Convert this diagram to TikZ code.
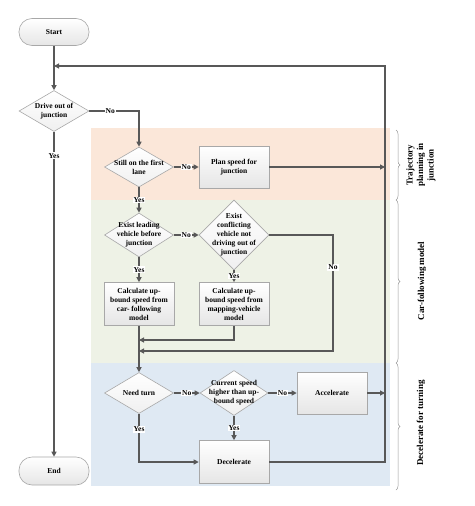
\documentclass[tikz,border=0pt]{standalone}
\usepackage{fontspec}
\setmainfont{Liberation Serif}
\usetikzlibrary{shapes.geometric,arrows.meta,decorations.pathreplacing}
\definecolor{bandO}{RGB}{251,231,217}
\definecolor{bandG}{RGB}{238,242,230}
\definecolor{bandB}{RGB}{223,233,243}
\definecolor{lineC}{RGB}{88,88,88}
\definecolor{bordC}{RGB}{168,168,168}
\tikzset{
  nfont/.style={font=\bfseries\fontsize{7.5}{9}\selectfont},
  base/.style={draw=bordC, line width=0.6pt, top color=white, bottom color=black!10, inner sep=0pt, nfont, align=center},
  term/.style={base, rounded corners=13pt, minimum width=70pt, minimum height=27pt},
  boxn/.style={base, rectangle, minimum width=70pt, minimum height=42pt},
  dia/.style={base, diamond, top color=white, bottom color=black!6},
  conn/.style={draw=lineC, line width=1.1pt},
  arr/.style={conn, -{Triangle[length=5pt,width=5pt]}},
  lab/.style={fill=white, inner sep=1pt, nfont},
  side/.style={rotate=90, align=center, font=\bfseries\fontsize{9}{10.5}\selectfont},
  brc/.style={draw=black!40, line width=0.5pt, decorate, decoration={brace, amplitude=4pt}}
}
\begin{document}
\begin{tikzpicture}[x=1pt, y=-1pt]
\useasboundingbox (0,0) rectangle (474,506);
% bands
\fill[bandO] (91,128) rectangle (390,200);
\fill[bandG] (91,200) rectangle (390,363);
\fill[bandB] (91,363) rectangle (390,486);

% nodes
\node[term] (start) at (54,32) {Start};
\node[term, minimum height=28pt] (end) at (54,471) {End};
\node[dia, minimum width=70pt, minimum height=41pt,
      label={[nfont, align=center]center:Drive out of\\junction}] (d1) at (54,111) {};
\node[dia, minimum width=69pt, minimum height=40pt,
      label={[nfont, align=center]center:Still on the first\\lane}] (d2) at (139,167) {};
\node[boxn] (plan) at (234,167) {Plan speed for\\junction};
\node[dia, minimum width=69pt, minimum height=44pt,
      label={[nfont, align=center]center:Exist leading\\vehicle before\\junction}] (d3) at (139,235) {};
\node[dia, minimum width=70pt, minimum height=70pt,
      label={[nfont, align=center]center:Exist\\conflicting\\vehicle not\\driving out of\\junction}] (d4) at (234,235) {};
\node[boxn, minimum height=43pt] (b1) at (139,304) {Calculate up-\\bound speed from\\car- following\\model};
\node[boxn, minimum height=43pt] (b2) at (234,304) {Calculate up-\\bound speed from\\mapping-vehicle\\model};
\node[dia, minimum width=69pt, minimum height=41pt,
      label={[nfont, align=center]center:Need turn}] (d5) at (139,393) {};
\node[dia, minimum width=68pt, minimum height=45pt,
      label={[nfont, align=center]center:Current speed\\higher than up-\\bound speed}] (d6) at (234,393) {};
\node[boxn] (acc) at (332,393) {Accelerate};
\node[boxn, minimum height=43pt] (dec) at (234,462) {Decelerate};

% helper coordinates
\coordinate (cR) at (385,66);
\coordinate (cL) at (54,66);
\coordinate (nR) at (333,351);
\coordinate (m1) at (139,340);

% connectors
\draw[arr] (start.south) -- (d1.north);
\draw[arr] (dec.east) -| (cR) -- (cL);
\draw[arr] (d1.east) -| node[lab, pos=0.21] {No} (d2.north);
\draw[arr] (d1.south) -- node[lab, pos=0.074] {Yes} (end.north);
\draw[arr] (d2.east) -- node[lab] {No} (plan.west);
\draw[arr] (plan.east) -- (plan.east -| cR);
\draw[arr] (d2.south) -- node[lab] {Yes} (d3.north);
\draw[arr] (d3.east) -- node[lab] {No} (d4.west);
\draw[arr] (d3.south) -- node[lab] {Yes} (b1.north);
\draw[arr] (d4.south) -- node[lab, inner sep=0.5pt] {Yes} (b2.north);
\draw[arr] (d4.east) -| node[lab, pos=0.64] {No} (nR) -- (nR -| b1.south);
\draw[arr] (b1.south) -- (d5.north);
\draw[arr] (b2.south) |- (m1);
\draw[arr] (d5.east) -- node[lab] {No} (d6.west);
\draw[arr] (d6.east) -- node[lab] {No} (acc.west);
\draw[arr] (acc.east) -- (acc.east -| cR);
\draw[arr] (d6.south) -- node[lab] {Yes} (dec.north);
\draw[arr] (d5.south) |- node[lab, pos=0.16] {Yes} (dec.west);

% braces and side labels
\draw[brc] (396,130) -- (396,200);
\draw[brc] (396,200) -- (396,363);
\draw[brc] (396,363) -- (396,490);
\node[side] (s1) at (421,165) {Trajectory\\planning in\\junction};
\node[side] (s2) at (422,281) {Car-following model};
\node[side] (s3) at (421,423) {Decelerate for turning};
\end{tikzpicture}
\end{document}
